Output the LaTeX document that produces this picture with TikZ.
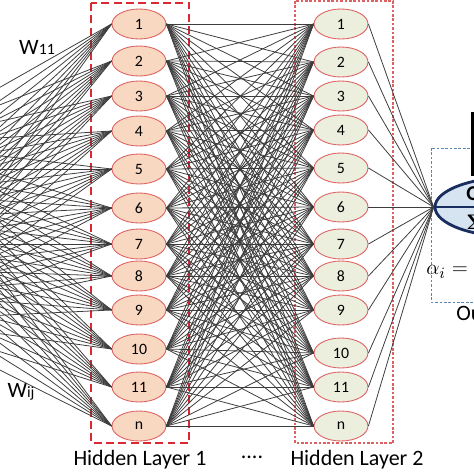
\documentclass[tikz,border=0pt]{standalone}
\usepackage{fontspec}
\setmainfont{Carlito}
\usepackage{amsmath}
\usetikzlibrary{shapes, arrows}

\definecolor{peach}{RGB}{249,216,194}
\definecolor{sage}{RGB}{236,238,222}
\definecolor{nodered}{RGB}{222,96,96}
\definecolor{boxred}{RGB}{220,40,50}
\definecolor{outblue}{RGB}{214,228,242}
\definecolor{navy}{RGB}{25,45,95}
\definecolor{dashblue}{RGB}{90,135,180}

\begin{document}
\begin{tikzpicture}[x=0.02cm,y=-0.02cm]
            \tikzset{neuron/.style = {ellipse, draw=nodered, line width=0.5pt, minimum width=1.08cm,
                                      minimum height=0.6cm, inner sep=0pt, font=\fontsize{9}{10}\selectfont},
                     hidA/.style = {neuron, fill=peach},
                     hidB/.style = {neuron, fill=sage},
                     edge/.style = {-, line width=0.45pt, black!76},
                     caption/.style = {font=\fontsize{12.5}{14}\selectfont}}
            \useasboundingbox (0,0) rectangle (474,474);
            \clip (0,0) rectangle (474,474);
            % input ends (off the picture)
            \coordinate (x1) at (-100,144);
            \coordinate (x2) at (-100,169);
            \coordinate (x3) at (-100,194);
            \coordinate (x4) at (-100,219);
            \coordinate (x5) at (-100,244);
            \coordinate (x6) at (-100,269);
            \coordinate (x7) at (-100,294);
            \coordinate (x8) at (-100,320);
            % boxes
            \draw[boxred, line width=1.1pt, dash pattern=on 4.5pt off 2.5pt] (91,3) rectangle (189,443);
            \draw[nodered, line width=0.6pt, dash pattern=on 1.5pt off 1pt] (295,1) rectangle (393,443);
            \draw[dashblue, line width=0.5pt, dash pattern=on 1.5pt off 1pt] (431,148) rectangle (560,302);
            % vertices
            \node[hidA] (a1) at  (139,24) {1};
            \node[hidA] (a2) at  (139,61) {2};
            \node[hidA] (a3) at  (139,96) {3};
            \node[hidA] (a4) at  (139,131) {4};
            \node[hidA] (a5) at  (139,169) {5};
            \node[hidA] (a6) at  (139,208) {6};
            \node[hidA] (a7) at  (139,244) {7};
            \node[hidA] (a8) at  (139,276) {8};
            \node[hidA] (a9) at  (139,310) {9};
            \node[hidA] (a10) at (139,349) {10};
            \node[hidA] (a11) at (139,387) {11};
            \node[hidA] (a12) at (139,426) {n};
            \node[hidB] (b1) at  (341,24) {1};
            \node[hidB] (b2) at  (341,62) {2};
            \node[hidB] (b3) at  (341,96) {3};
            \node[hidB] (b4) at  (341,130) {4};
            \node[hidB] (b5) at  (341,168) {5};
            \node[hidB] (b6) at  (341,207) {6};
            \node[hidB] (b7) at  (341,244) {7};
            \node[hidB] (b8) at  (341,276) {8};
            \node[hidB] (b9) at  (341,310) {9};
            \node[hidB] (b10) at (341,353) {10};
            \node[hidB] (b11) at (341,387) {11};
            \node[hidB] (b12) at (341,426) {n};
            \node[ellipse, draw=navy, line width=1.6pt, fill=outblue, minimum width=3.2cm,
                  minimum height=1.2cm] (out) at (515,207) {};
            \draw[navy, line width=1.2pt] (out.west) -- (out.east);
            \node[anchor=west, font=\bfseries\fontsize{12}{14}\selectfont, inner sep=0pt] (otop) at (466,195) {Output};
            \node[anchor=west, font=\fontsize{12}{14}\selectfont, inner sep=0pt] (obot) at (466,222) {$\boldsymbol{\Sigma}$};
            \coordinate (bar1) at (473,112);
            \coordinate (bar2) at (473,176);
            \node[anchor=west, inner sep=0pt, font=\fontsize{13}{15}\selectfont] (alpha) at (426,272) {$\alpha_i =$};
            \node[anchor=west, inner sep=0pt, caption] (otxt) at (456,315) {Output};
            % labels
            \node[caption] (w11) at (37,47) {W{\fontsize{9}{10}\selectfont 11}};
            \node[caption] (wij) at (21,392) {W{\fontsize{9}{10}\selectfont ij}};
            \node[caption] (cap1) at (140,460) {Hidden Layer 1};
            \node[caption] (cap2) at (357,460) {Hidden Layer 2};
            \node[caption] (dots) at (252,457) {....};
            %edges
            \foreach \i in {1,...,8}
              \foreach \j in {1,...,12}
                \draw[edge] (x\i) to (a\j.west);
            \foreach \i in {1,...,12}
              \foreach \j in {1,...,12}
                \draw[edge] (a\i.east) to (b\j.west);
            \foreach \j in {1,...,12}
              \draw[edge] (b\j.east) to (out.west);
            \draw[black, line width=2.5pt] (bar1) to (bar2);
\end{tikzpicture}
\end{document}
